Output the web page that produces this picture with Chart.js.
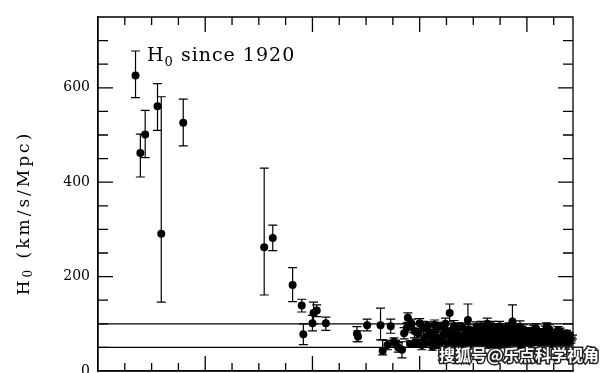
<!DOCTYPE html>
<html>
<head>
<meta charset="utf-8">
<script src="https://cdn.jsdelivr.net/npm/chart.js@4.4.1/dist/chart.umd.min.js"></script>
<style>
  html, body { margin: 0; padding: 0; background: #fff; overflow: hidden; }
  #wrap { width: 607px; height: 430px; }
</style>
</head>
<body>
<div id="wrap"><canvas id="chart" width="607" height="430"></canvas></div>
<script>
// H0 measurements by year of publication
const years = [
  1927.0, 1927.9, 1928.8, 1931.1, 1931.8, 1935.9, 1951.0, 1952.6, 1956.3, 1958.0,
  1958.3, 1960.0, 1960.2, 1960.8, 1962.5, 1968.3, 1968.5, 1970.2, 1972.7, 1973.1,
  1974.0, 1974.6, 1975.2, 1975.5, 1976.0, 1976.7, 1977.1, 1977.6, 1977.8, 1978.2,
  1978.5, 1979.0, 1979.4, 1979.7, 1980.0, 1980.4, 1980.7, 1981.2, 1981.5, 1982.0,
  1982.4, 1982.8, 1983.2, 1983.7, 1984.1, 1984.5, 1985.0, 1985.3, 1985.6, 1986.0,
  1986.4, 1986.8, 1987.2, 1987.6, 1988.0, 1988.3, 1988.7, 1989.0, 1989.4, 1989.8,
  1990.2, 1990.6, 1991.0, 1991.3, 1991.7, 1992.1, 1992.5, 1992.8, 1993.2, 1993.6,
  1994.0, 1994.3, 1994.7, 1995.0, 1995.3, 1995.6, 1995.9, 1996.2, 1996.5, 1996.8,
  1997.0, 1997.3, 1997.6, 1997.9, 1998.2, 1998.5, 1998.7, 1999.0, 1999.3, 1999.6,
  1999.9, 2000.2, 2000.5, 2000.8, 2001.2, 2001.5, 2001.8, 2002.1, 2002.4, 2002.7,
  2003.0, 2003.4, 2003.7, 2004.0, 2004.3, 2004.6, 2005.0, 2005.3, 2005.6, 2006.0,
  2006.2, 2006.5, 2006.8, 2007.1, 2007.4, 2007.7, 2008.0, 2008.3,
  1980.9, 1981.8, 1982.6, 1983.0, 1983.5, 1984.3, 1984.8, 1985.8, 1986.2, 1986.6,
  1987.0, 1987.4, 1987.9, 1988.5, 1989.2, 1989.6, 1990.0, 1990.4, 1990.8, 1991.5,
  1991.9, 1992.3, 1992.6, 1993.0, 1993.4, 1993.8, 1994.1, 1994.5, 1994.9, 1995.1,
  1995.5, 1995.8, 1996.0, 1996.3, 1996.7, 1997.1, 1997.4, 1997.8, 1998.0, 1998.3,
  1998.6, 1998.9, 1999.1, 1999.4, 1999.8, 2000.0, 2000.3, 2000.6, 2000.9, 2001.0,
  2001.3, 2001.7, 2002.0, 2002.3, 2002.6, 2002.9, 2003.2, 2003.5, 2003.9, 2004.2,
  2004.5, 2004.8, 2005.1, 2005.4, 2005.8, 2006.1, 2006.4, 2006.7, 2007.0, 2007.3,
  2007.6, 2007.9, 2008.2, 2008.5
];
const h0 = [
  626, 462, 501, 561, 291, 526, 262, 282, 182, 139,
  78, 101, 123, 128, 101, 79, 73, 97, 97, 43,
  55, 95, 62, 59, 50, 45, 80, 91, 113, 57,
  100, 85, 59, 80, 101, 55, 90, 60, 96, 74,
  52, 98, 67, 95, 62, 80, 80, 57, 123, 72,
  95, 87, 65, 55, 92, 73, 83, 108, 60, 78,
  68, 94, 58, 85, 73, 64, 87, 55, 78, 95,
  70, 90, 62, 80, 69, 57, 88, 87, 73, 65,
  78, 105, 60, 72, 85, 66, 94, 75, 58, 70,
  82, 68, 73, 62, 87, 71, 65, 78, 60, 72,
  68, 85, 94, 70, 62, 75, 66, 72, 80, 64,
  83, 70, 74, 62, 80, 70, 72, 68,
  70, 82, 63, 85, 55, 72, 100, 65, 82, 58,
  90, 76, 68, 60, 88, 70, 80, 58, 75, 95,
  62, 76, 100, 66, 58, 85, 78, 55, 95, 73,
  84, 63, 78, 57, 92, 68, 83, 90, 63, 76,
  55, 80, 67, 88, 62, 78, 58, 84, 70, 60,
  76, 90, 67, 82, 64, 75, 60, 72, 78, 88,
  67, 58, 78, 62, 86, 72, 60, 78, 68, 73,
  60, 76, 64, 72
];
const errMinus = [
  47, 51, 49, 51, 145, 49, 101, 27, 35, 14,
  22, 16, 23, 13, 15, 17, 11, 12, 31, 9,
  10, 15, 8, 6, 10, 17, 12, 10, 10, 7,
  10, 15, 8, 10, 10, 10, 15, 10, 8, 10,
  8, 10, 10, 8, 10, 12, 10, 8, 19, 10,
  12, 10, 10, 8, 10, 8, 10, 34, 10, 10,
  8, 10, 8, 10, 10, 8, 10, 6, 8, 10,
  8, 10, 6, 10, 8, 8, 12, 10, 8, 10,
  6, 35, 6, 8, 10, 6, 12, 8, 6, 7,
  10, 6, 8, 6, 10, 7, 6, 8, 6, 7,
  5, 10, 8, 6, 5, 7, 5, 6, 8, 5,
  8, 5, 6, 5, 6, 4, 5, 4,
  10, 12, 8, 10, 7, 10, 12, 8, 10, 8,
  12, 10, 8, 8, 10, 8, 12, 7, 10, 10,
  8, 10, 12, 8, 6, 10, 8, 6, 10, 8,
  10, 6, 8, 6, 10, 6, 8, 10, 6, 8,
  6, 8, 6, 10, 6, 8, 5, 8, 6, 6,
  6, 10, 6, 8, 5, 6, 5, 6, 8, 10,
  5, 5, 6, 5, 8, 5, 5, 6, 5, 5,
  6, 6, 5, 4
];
const errPlus = [
  52, 40, 51, 48, 290, 50, 168, 27, 37, 13,
  22, 17, 23, 12, 13, 15, 12, 13, 36, 23,
  10, 15, 8, 6, 10, 17, 12, 10, 10, 7,
  10, 15, 8, 10, 10, 10, 15, 10, 8, 10,
  8, 10, 10, 8, 10, 12, 10, 8, 19, 10,
  12, 10, 10, 8, 10, 8, 10, 34, 10, 10,
  8, 10, 8, 10, 10, 8, 10, 6, 8, 10,
  8, 10, 6, 10, 8, 8, 12, 10, 8, 10,
  6, 35, 6, 8, 10, 6, 12, 8, 6, 7,
  10, 6, 8, 6, 10, 7, 6, 8, 6, 7,
  5, 10, 8, 6, 5, 7, 5, 6, 8, 5,
  8, 5, 6, 5, 6, 4, 5, 4,
  10, 12, 8, 10, 7, 10, 12, 8, 10, 8,
  12, 10, 8, 8, 10, 8, 12, 7, 10, 10,
  8, 10, 12, 8, 6, 10, 8, 6, 10, 8,
  10, 6, 8, 6, 10, 6, 8, 10, 6, 8,
  6, 8, 6, 10, 6, 8, 5, 8, 6, 6,
  6, 10, 6, 8, 5, 6, 5, 6, 8, 10,
  5, 5, 6, 5, 8, 5, 5, 6, 5, 5,
  6, 6, 5, 4
];
const refLines = [100, 50];
const yearRange = [1920, 2008.6];

const serif = '"DejaVu Serif", "Liberation Serif", serif';

const points = years.map((yr, i) => ({ x: yr, y: h0[i] }));
const lineSets = refLines.map(v => ({
  type: 'line',
  data: yearRange.map(yr => ({ x: yr, y: v })),
  borderColor: '#000',
  borderWidth: 1.2,
  pointRadius: 0,
  fill: false
}));

const errorBars = {
  id: 'errorBars',
  beforeDatasetsDraw(chart) {
    const { ctx, scales: { x, y } } = chart;
    ctx.save();
    ctx.strokeStyle = '#000';
    ctx.lineWidth = 1.2;
    years.forEach((yr, i) => {
      const px = x.getPixelForValue(yr);
      const top = y.getPixelForValue(h0[i] + errPlus[i]);
      const bot = y.getPixelForValue(h0[i] - errMinus[i]);
      ctx.beginPath();
      ctx.moveTo(px, top); ctx.lineTo(px, bot);
      ctx.moveTo(px - 4.5, top); ctx.lineTo(px + 4.5, top);
      ctx.moveTo(px - 4.5, bot); ctx.lineTo(px + 4.5, bot);
      ctx.stroke();
    });
    ctx.restore();
  }
};

// "H" + subscript 0 + rest, starting at x
function subText(ctx, size, rest, x, y) {
  ctx.font = size + 'px ' + serif;
  ctx.fillText('H', x, y);
  let w = ctx.measureText('H').width;
  ctx.font = Math.round(size * 0.7) + 'px ' + serif;
  ctx.fillText('0', x + w, y + size * 0.25);
  w += ctx.measureText('0').width;
  ctx.font = size + 'px ' + serif;
  ctx.fillText(rest, x + w, y);
}
function subWidth(ctx, size, rest) {
  ctx.font = size + 'px ' + serif;
  let w = ctx.measureText('H').width + ctx.measureText(rest).width;
  ctx.font = Math.round(size * 0.7) + 'px ' + serif;
  return w + ctx.measureText('0').width;
}

// frame with inward ticks on all four sides, plus texts
const frame = {
  id: 'frame',
  afterDraw(chart) {
    const { ctx, chartArea: a, scales: { x, y } } = chart;
    ctx.save();
    ctx.strokeStyle = '#000';
    ctx.lineWidth = 1.3;
    ctx.beginPath();
    ctx.rect(a.left, a.top, a.right - a.left, a.bottom - a.top);
    for (let v = 0; v <= 750; v += 50) {
      const py = y.getPixelForValue(v);
      const len = v % 200 === 0 ? 15 : 10;
      ctx.moveTo(a.left, py); ctx.lineTo(a.left + len, py);
      ctx.moveTo(a.right, py); ctx.lineTo(a.right - len, py);
    }
    for (let yr = 1920; yr <= 2005; yr += 5) {
      const px = x.getPixelForValue(yr);
      const len = (yr - 1920) % 20 === 0 ? 15 : 8;
      ctx.moveTo(px, a.bottom); ctx.lineTo(px, a.bottom - len);
      ctx.moveTo(px, a.top); ctx.lineTo(px, a.top + len);
    }
    ctx.stroke();

    ctx.fillStyle = '#000';
    ctx.textBaseline = 'alphabetic';
    ctx.letterSpacing = '1px';
    subText(ctx, 19, ' since 1920', 147, 61);

    ctx.translate(25, 213);
    ctx.rotate(-Math.PI / 2);
    ctx.letterSpacing = '3px';
    ctx.textBaseline = 'middle';
    const tw = subWidth(ctx, 17, ' (km/s/Mpc)');
    subText(ctx, 17, ' (km/s/Mpc)', -tw / 2, 0);
    ctx.restore();

    ctx.save();
    ctx.font = 'bold 16px "Noto Sans CJK SC", sans-serif';
    ctx.textBaseline = 'alphabetic';
    ctx.lineWidth = 3;
    ctx.strokeStyle = '#222';
    ctx.fillStyle = '#fff';
    ctx.strokeText('搜狐号@乐点科学视角', 439, 361);
    ctx.fillText('搜狐号@乐点科学视角', 439, 361);
    ctx.restore();
  }
};

new Chart(document.getElementById('chart'), {
  type: 'scatter',
  data: {
    datasets: [{
      data: points,
      backgroundColor: '#000',
      borderColor: '#000',
      borderWidth: 0,
      pointRadius: 4
    }].concat(lineSets)
  },
  options: {
    responsive: false,
    animation: false,
    devicePixelRatio: 1,
    layout: { padding: { left: 0, right: 34, top: 17, bottom: 0 } },
    plugins: { legend: { display: false }, tooltip: { enabled: false } },
    scales: {
      x: {
        type: 'linear',
        min: yearRange[0],
        max: yearRange[1],
        grid: { display: false, drawTicks: false },
        border: { display: true, color: '#000', width: 1.3 },
        ticks: { stepSize: 20, includeBounds: false, padding: 8, color: '#000', font: { family: serif, size: 14 } },
        afterFit: s => { s.height = 59; }
      },
      y: {
        min: 0,
        max: 750,
        grid: { display: false, drawTicks: false },
        border: { display: true, color: '#000', width: 1.3 },
        ticks: { stepSize: 200, includeBounds: false, padding: 8, color: '#000', font: { family: serif, size: 14 } },
        afterFit: s => { s.width = 98; }
      }
    }
  },
  plugins: [errorBars, frame]
});
</script>
</body>
</html>
